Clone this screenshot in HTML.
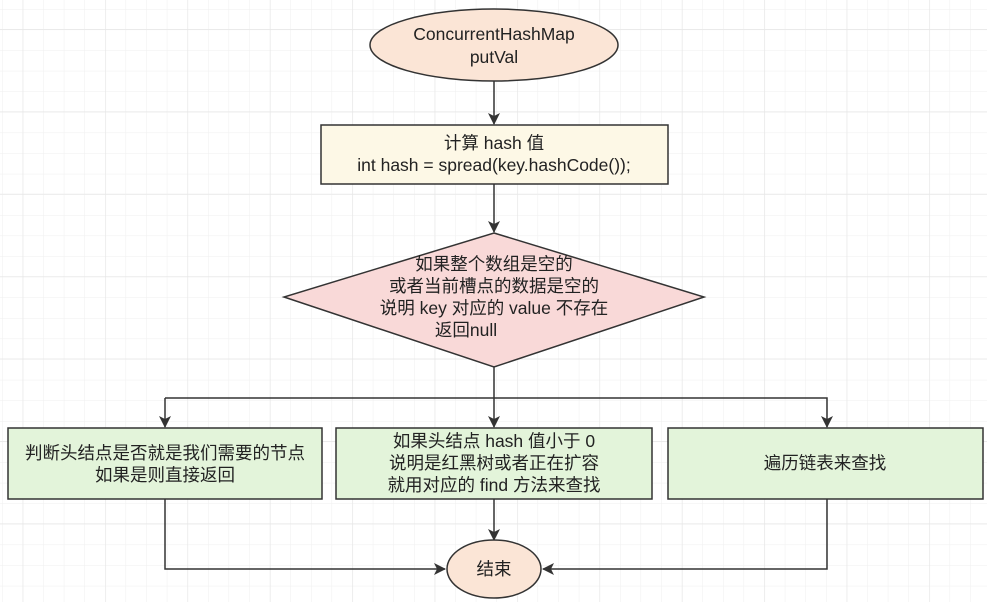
<!DOCTYPE html>
<html><head><meta charset="utf-8"><style>
body{margin:0;background:#fff}
svg{display:block}
text{font-family:"Liberation Sans","Noto Sans CJK SC",sans-serif;font-size:17.5px;fill:#222;text-anchor:middle}
</style></head><body>
<svg width="987" height="602" xmlns="http://www.w3.org/2000/svg">
<defs>
<pattern id="g" x="2" y="9" width="20.6" height="20.6" patternUnits="userSpaceOnUse">
<path d="M0 0V20.6M0 0H20.6" stroke="#efefef" stroke-width="1" fill="none"/>
</pattern>
<pattern id="G" x="-59.7" y="29" width="82.4" height="82.4" patternUnits="userSpaceOnUse">
<path d="M0 0V82.4M0 0H82.4" stroke="#e6e6e6" stroke-width="1.2" fill="none"/>
</pattern>
<marker id="a" markerWidth="12" markerHeight="12" refX="11" refY="6" orient="auto" markerUnits="userSpaceOnUse">
<path d="M0 0L12 6L0 12L3 6Z" fill="#333"/>
</marker>
</defs>
<rect width="987" height="602" fill="url(#g)"/>
<rect width="987" height="602" fill="url(#G)"/>
<g stroke="#333" stroke-width="1.5" fill="none">
<line x1="494" y1="81" x2="494" y2="124" marker-end="url(#a)"/>
<line x1="494" y1="184" x2="494" y2="232" marker-end="url(#a)"/>
<polyline points="494,367 494,398"/>
<polyline points="165,398 827,398 827,427" marker-end="url(#a)"/>
<line x1="165" y1="398" x2="165" y2="427" marker-end="url(#a)"/>
<line x1="494" y1="398" x2="494" y2="427" marker-end="url(#a)"/>
<polyline points="165,499 165,569 445,569" marker-end="url(#a)"/>
<polyline points="827,499 827,569 543,569" marker-end="url(#a)"/>
<line x1="494" y1="499" x2="494" y2="540" marker-end="url(#a)"/>
</g>
<g stroke="#333" stroke-width="1.5">
<ellipse cx="494" cy="45" rx="124" ry="36" fill="#fbe5d6"/>
<rect x="321" y="125" width="347" height="59" fill="#fdf8e6"/>
<polygon points="494,233 704,297 494,367 284,297" fill="#f9d9d8"/>
<rect x="8" y="428" width="314" height="71" fill="#e3f4da"/>
<rect x="336" y="428" width="316" height="71" fill="#e3f4da"/>
<rect x="668" y="428" width="315" height="71" fill="#e3f4da"/>
<ellipse cx="494" cy="569" rx="47" ry="29" fill="#fbe5d6"/>
</g>
<text x="494" y="40">ConcurrentHashMap</text>
<text x="494" y="63">putVal</text>
<text x="494" y="149">计算 hash 值</text>
<text x="494" y="171">int hash = spread(key.hashCode());</text>
<text x="494" y="270">如果整个数组是空的</text>
<text x="494" y="292">或者当前槽点的数据是空的</text>
<text x="494" y="314">说明 key 对应的 value 不存在</text>
<text x="466" y="336">返回null</text>
<text x="165" y="459">判断头结点是否就是我们需要的节点</text>
<text x="165" y="481">如果是则直接返回</text>
<text x="494" y="447">如果头结点 hash 值小于 0</text>
<text x="494" y="469">说明是红黑树或者正在扩容</text>
<text x="494" y="491">就用对应的 find 方法来查找</text>
<text x="825" y="469">遍历链表来查找</text>
<text x="494" y="575">结束</text>
</svg>
</body></html>
